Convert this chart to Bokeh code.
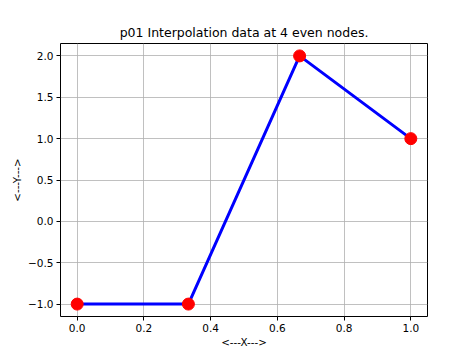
from bokeh.plotting import figure
from bokeh.models import FixedTicker, CustomJSTickFormatter, Range1d
from bokeh.embed import file_html
from bokeh.resources import INLINE

x_nodes = [0.0, 1/3, 2/3, 1.0]
y_nodes = [-1.0, -1.0, 2.0, 1.0]
x_ticks = [0.0, 0.2, 0.4, 0.6, 0.8, 1.0]
y_ticks = [-1.0, -0.5, 0.0, 0.5, 1.0, 1.5, 2.0]
title_text = "p01 Interpolation data at 4 even nodes."
x_label = "<---X--->"
y_label = "<---Y--->"

FONT = "DejaVu Sans"

p = figure(width=474, height=355, output_backend="svg", toolbar_location=None,
           x_range=Range1d(-0.05, 1.05), y_range=Range1d(-1.15, 2.15),
           min_border_left=60, min_border_right=47, min_border_top=43, min_border_bottom=39,
           title=title_text)

p.title.align = "center"
p.title.text_font = FONT
p.title.text_font_size = "12.5px"
p.title.text_font_style = "normal"
p.title.text_color = "black"
p.title.standoff = 7

fmt = CustomJSTickFormatter(code="return tick.toFixed(1).replace('-', '\u2212');")

for ax, ticks, lab in ((p.xaxis[0], x_ticks, x_label), (p.yaxis[0], y_ticks, y_label)):
    ax.ticker = FixedTicker(ticks=ticks)
    ax.formatter = fmt
    ax.axis_label = lab
    ax.axis_label_text_font = FONT
    ax.axis_label_text_font_size = "10.3px"
    ax.axis_label_text_font_style = "normal"
    ax.axis_label_text_color = "black"
    ax.major_label_text_font = FONT
    ax.major_label_text_font_size = "10.5px"
    ax.major_label_text_color = "black"
    ax.major_tick_out = 4
    ax.major_tick_in = 0
    ax.minor_tick_out = 0
    ax.minor_tick_in = 0
    ax.axis_line_color = None
    ax.major_tick_line_color = "black"
    ax.major_label_standoff = 3

p.xaxis[0].axis_label_standoff = 1
p.yaxis[0].axis_label_standoff = 2

p.outline_line_color = "black"
p.outline_line_width = 1
p.outline_line_alpha = 1

p.xgrid.ticker = FixedTicker(ticks=x_ticks)
p.ygrid.ticker = FixedTicker(ticks=y_ticks)
for g in (p.xgrid[0], p.ygrid[0]):
    g.grid_line_color = "#b0b0b0"
    g.grid_line_width = 0.8

p.line(x_nodes, y_nodes, line_color="blue", line_width=3)
p.scatter(x_nodes, y_nodes, size=12, fill_color="red", line_color="red")

open("out.html", "w").write(file_html(p, INLINE))
